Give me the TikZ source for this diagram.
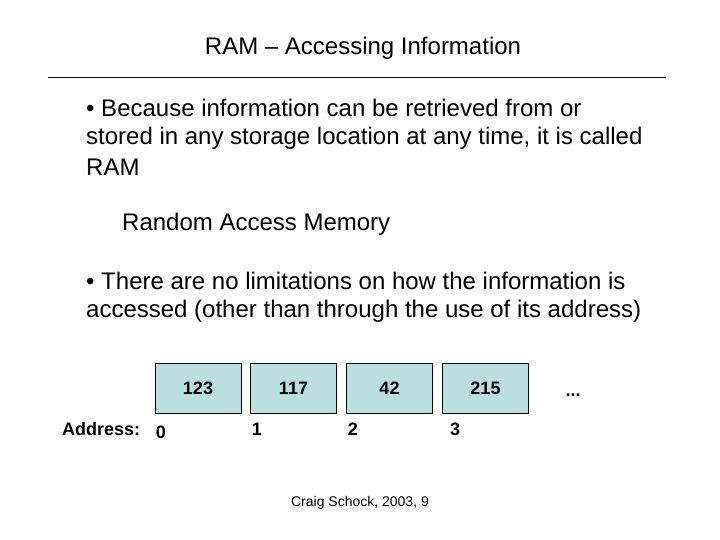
\documentclass[tikz,border=0pt]{standalone}
\usepackage{fontspec}
\setmainfont{Liberation Sans}
\begin{document}
\begin{tikzpicture}[x=1pt,y=-1pt,
  txt/.style={anchor=west,inner sep=0pt,font=\fontsize{24}{24}\selectfont},
  cell/.style={draw,fill=boxc,minimum width=86pt,minimum height=50pt,inner sep=0pt,font=\bfseries\fontsize{18}{18}\selectfont},
  addr/.style={inner sep=0pt,font=\bfseries\fontsize{18}{18}\selectfont}]
\definecolor{boxc}{HTML}{BBDFE1}
\useasboundingbox (0,0) rectangle (720,540);
\node[inner sep=0pt,font=\fontsize{24}{24}\selectfont] (title) at (363,48) {RAM -- Accessing Information};
\draw[line width=0.8pt] (48,77) -- (666,77);
\node[txt] (l1) at (86,108) {• Because information can be retrieved from or};
\node[txt] (l2) at (86,138) {stored in any storage location at any time, it is called};
\node[txt] (l3) at (86,167) {RAM};
\node[txt] (l4) at (122,224) {Random Access Memory};
\node[txt] (l5) at (86,281) {• There are no limitations on how the information is};
\node[txt] (l6) at (86,311) {accessed (other than through the use of its address)};
\node[cell] (c0) at (198,388) {123};
\node[cell] (c1) at (293.5,388) {117};
\node[cell] (c2) at (389.5,388) {42};
\node[cell] (c3) at (485.5,388) {215};
\node[addr] (dots) at (573,395) {...};
\node[addr,anchor=west] (al) at (62,429) {Address:};
\node[addr] (a0) at (161,432) {0};
\node[addr] (a1) at (257,429) {1};
\node[addr] (a2) at (353,429) {2};
\node[addr] (a3) at (455,429) {3};
\node[inner sep=0pt,font=\fontsize{14}{14}\selectfont] (cr) at (360,503) {Craig Schock, 2003, 9};
\end{tikzpicture}
\end{document}
